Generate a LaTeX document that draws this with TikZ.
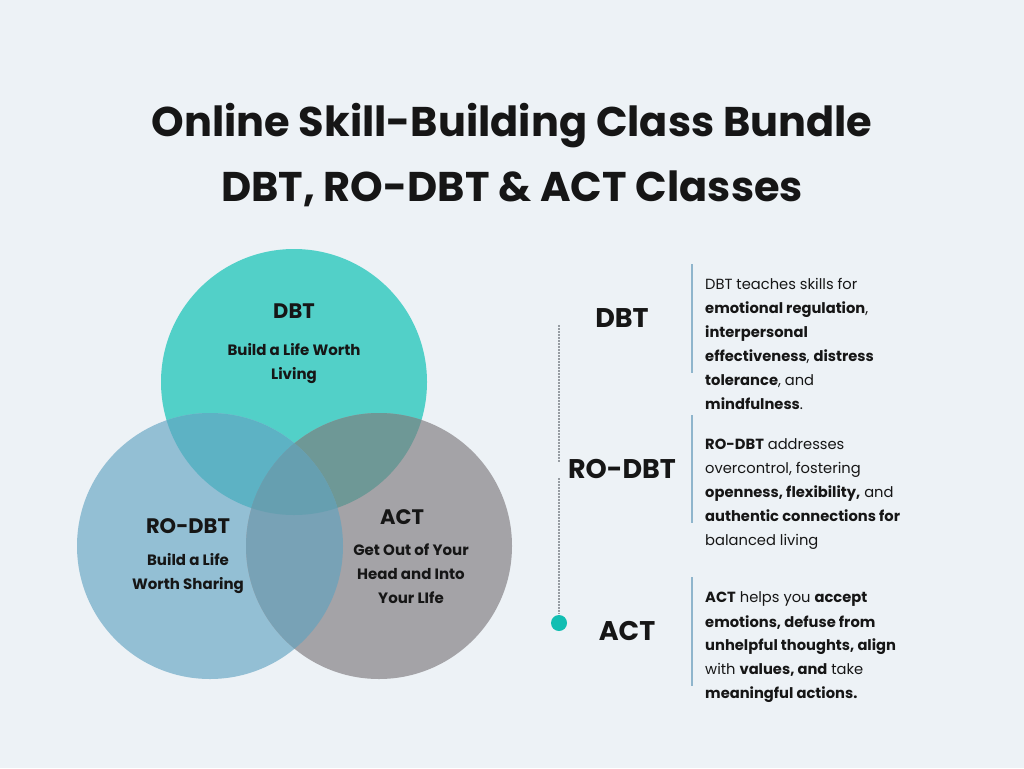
\documentclass[tikz,border=0pt]{standalone}
\usepackage{fontspec}
\setmainfont{Poppins}
\definecolor{bg}{RGB}{237,242,246}
\definecolor{ink}{RGB}{22,22,22}
\definecolor{cteal}{RGB}{82,208,200}
\definecolor{cblue}{RGB}{147,191,212}
\definecolor{cgray}{RGB}{164,163,167}
\definecolor{ctb}{RGB}{93,178,196}
\definecolor{ctg}{RGB}{110,152,150}
\definecolor{cbg}{RGB}{120,162,182}
\definecolor{call}{RGB}{102,159,176}
\definecolor{dotc}{RGB}{18,190,178}
\definecolor{barc}{RGB}{143,181,204}
\definecolor{dashc}{RGB}{150,156,162}
\tikzset{
  ttl/.style={font=\fontsize{41.5}{44}\selectfont\bfseries, text=ink, anchor=base, inner sep=0},
  ctitle/.style={font=\fontsize{21}{24}\selectfont\bfseries, text=ink, anchor=base, inner sep=0},
  csub/.style={font=\fontsize{15}{24}\selectfont\bfseries, text=ink, anchor=base, inner sep=0},
  rlabel/.style={font=\fontsize{27}{30}\selectfont\bfseries, text=ink, anchor=base, inner sep=0},
  body/.style={font=\fontsize{14.7}{24}\selectfont, text=ink, anchor=base west, inner sep=0},
  bar/.style={draw=barc, line width=1.2pt},
  dots/.style={draw=dashc, line width=1.2pt, dash pattern=on 1.5pt off 1.5pt},
}
\begin{document}
\begin{tikzpicture}[x=1pt,y=-1pt]
\fill[bg] (0,0) rectangle (1024,768);
\useasboundingbox (0,0) rectangle (1024,768);
% title
\node[ttl] (t1) at (512,136) {Online Skill-Building Class Bundle};
\node[ttl] (t2) at (512,201) {DBT, RO-DBT \& ACT Classes};
% circles
\coordinate (cD) at (294,382);
\coordinate (cR) at (210,546);
\coordinate (cA) at (379,546);
\fill[cteal] (cD) circle[radius=133pt];
\fill[cblue] (cR) circle[radius=133pt];
\fill[cgray] (cA) circle[radius=133pt];
\begin{scope}\clip (cD) circle[radius=133pt]; \fill[ctb] (cR) circle[radius=133pt];\end{scope}
\begin{scope}\clip (cD) circle[radius=133pt]; \fill[ctg] (cA) circle[radius=133pt];\end{scope}
\begin{scope}\clip (cR) circle[radius=133pt]; \fill[cbg] (cA) circle[radius=133pt];\end{scope}
\begin{scope}\clip (cD) circle[radius=133pt]; \clip (cR) circle[radius=133pt]; \fill[call] (cA) circle[radius=133pt];\end{scope}
% circle texts
\node[ctitle] (dT) at (294,318) {DBT};
\node[csub] (dS1) at (294,355) {Build a Life Worth};
\node[csub] (dS2) at (294,379) {Living};
\node[ctitle] (rT) at (188,533) {RO-DBT};
\node[csub] (rS1) at (188,565) {Build a Life};
\node[csub] (rS2) at (188,589) {Worth Sharing};
\node[ctitle] (aT) at (402,524) {ACT};
\node[csub] (aS1) at (411,555) {Get Out of Your};
\node[csub] (aS2) at (411,579) {Head and Into};
\node[csub] (aS3) at (411,603) {Your LIfe};
% timeline
\coordinate (l1a) at (559,325);
\coordinate (l1b) at (559,462);
\coordinate (l2a) at (559,478);
\coordinate (l2b) at (559,614);
\draw[dots] (l1a) -- (l1b);
\draw[dots] (l2a) -- (l2b);
\node[circle, fill=dotc, minimum size=16pt, inner sep=0] (dot) at (559,623) {};
\node[rlabel] (lD) at (622,327) {DBT};
\node[rlabel] (lR) at (622,478) {RO-DBT};
\node[rlabel] (lA) at (627,640) {ACT};
% bars
\coordinate (b1a) at (692,264); \coordinate (b1b) at (692,373);
\coordinate (b2a) at (692,415); \coordinate (b2b) at (692,523);
\coordinate (b3a) at (692,577); \coordinate (b3b) at (692,686);
\draw[bar] (b1a) -- (b1b);
\draw[bar] (b2a) -- (b2b);
\draw[bar] (b3a) -- (b3b);
% descriptions
\node[body] (p11) at (705,289) {DBT teaches skills for};
\node[body] (p12) at (705,313) {\textbf{emotional regulation},};
\node[body] (p13) at (705,337) {\textbf{interpersonal}};
\node[body] (p14) at (705,361) {\textbf{effectiveness}, \textbf{distress}};
\node[body] (p15) at (705,385) {\textbf{tolerance}, and};
\node[body] (p16) at (705,409) {\textbf{mindfulness}.};
\node[body] (p21) at (705,449) {\textbf{RO-DBT} addresses};
\node[body] (p22) at (705,473) {overcontrol, fostering};
\node[body] (p23) at (705,497) {\textbf{openness, flexibility,} and};
\node[body] (p24) at (705,521) {\textbf{authentic connections for}};
\node[body] (p25) at (705,545) {balanced living};
\node[body] (p31) at (705,602) {\textbf{ACT} helps you \textbf{accept}};
\node[body] (p32) at (705,627) {\textbf{emotions, defuse from}};
\node[body] (p33) at (705,650) {\textbf{unhelpful thoughts, align}};
\node[body] (p34) at (705,674) {with \textbf{values, and} take};
\node[body] (p35) at (705,698) {\textbf{meaningful actions.}};
\end{tikzpicture}
\end{document}
